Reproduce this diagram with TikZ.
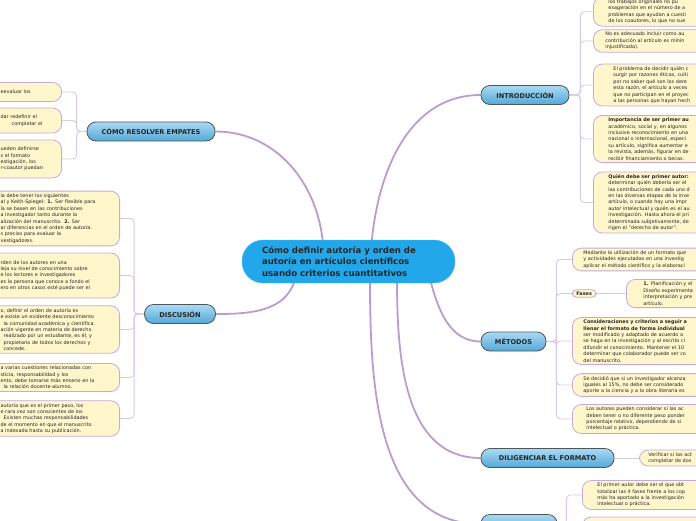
\documentclass[tikz,border=0pt]{standalone}
\usepackage{fontspec}
\setsansfont{DejaVu Sans}
\renewcommand{\familydefault}{\sfdefault}
\usepackage{tikz}
\usetikzlibrary{backgrounds}
\definecolor{hubblue}{RGB}{34,168,234}
\definecolor{branchtop}{RGB}{170,218,243}
\definecolor{branchbot}{RGB}{84,168,216}
\definecolor{branchline}{RGB}{78,86,92}
\definecolor{leafyellow}{RGB}{255,246,204}
\definecolor{leafline}{RGB}{196,170,220}
\definecolor{trunkpurple}{RGB}{186,156,210}
\definecolor{twigpurple}{RGB}{216,200,234}
\definecolor{inkgray}{RGB}{38,38,38}

\begin{document}
\begin{tikzpicture}[x=1pt, y=1pt,
  hub/.style={fill=hubblue, draw=hubblue!80!white, rounded corners=21, text width=173,
    inner xsep=20, inner ysep=5, minimum height=43, align=left, text=inkgray,
    font=\fontsize{8.6}{11.5}\selectfont\bfseries},
  branch/.style={draw=branchline, line width=0.8, top color=branchtop, bottom color=branchbot,
    rounded corners=9, minimum height=19, inner sep=2, text=inkgray,
    font=\fontsize{6.6}{8}\selectfont\bfseries},
  leaf/.style={draw=leafline, line width=0.8, fill=leafyellow, rounded corners=9,
    inner xsep=11, inner ysep=2.5, align=left, text=inkgray,
    font=\fontsize{4.9}{6.4}\selectfont},
  rleaf/.style={leaf, anchor=west, text width=135},
  lleaf/.style={leaf, anchor=east, text width=107, inner xsep=12},
  trunk/.style={draw=trunkpurple, line width=1.8},
  twig/.style={draw=twigpurple, line width=0.9, rounded corners=4}
]
\useasboundingbox (0,-520) rectangle (696,0);
\clip (0,-520) rectangle (696,0);

\node[hub] (c) at (348.5,-261.5) {Cómo definir autoría y orden de\\ autoría en artículos científicos\\ usando criterios cuantitativos};

\node[branch, minimum width=128] (emp) at (151,-131.5) {CÓMO RESOLVER EMPATES};
\node[branch, minimum width=71] (disc) at (180,-314) {DISCUSIÓN};
\node[branch, minimum width=88] (intro) at (525,-95) {INTRODUCCIÓN};
\node[branch, minimum width=65] (met) at (513.5,-341.5) {MÉTODOS};
\node[branch, minimum width=133] (dil) at (547.5,-458) {DILIGENCIAR EL FORMATO};
\node[branch, minimum width=76] (bot) at (519,-524) {};

\node[rleaf, inner xsep=15] (i1) at (593,-11.7) {los trabajos originales no pu\\exageración en el número de a\\problemas que ayudan a cuesti\\de los coautores, lo que no sue};
\node[rleaf, inner xsep=12] (i2) at (593,-41) {No es adecuado incluir como au\\contribución al artículo es mínin\\injustificada).};
\node[rleaf, inner xsep=20] (i3) at (593,-85) {El problema de decidir quién c\\surgir por razones éticas, culti\\por no saber qué son los dere\\esta razón, el artículo a veces\\que no participan en el proyec\\a las personas que hayan hech};
\node[rleaf, inner xsep=15] (i4) at (593,-139) {\textbf{Importancia de ser primer au}\\académico, social y, en algunos\\inclusive reconocimiento en una\\nacional o internacional, especi\\su artículo, significa aumentar e\\la revista, además, figurar en de\\recibir financiamiento o becas.};
\node[rleaf, inner xsep=15] (i5) at (593,-202.5) {\textbf{Quién debe ser primer autor:}\\determinar quién debería ser el\\las contribuciones de cada uno d\\en las diversas etapas de la inve\\artículo, o cuando hay una impr\\autor intelectual y quién es el au\\investigación. Hasta ahora el pri\\determinada subjetivamente, de\\rigen el "derecho de autor".};

\node[lleaf, text width=49, minimum height=19] (e1) at (62,-92) {eevaluar los};
\node[lleaf, text width=49, minimum height=25] (e2) at (62,-120.5) {dar redefinir el\\\hspace*{11pt}completar el};
\node[lleaf, text width=49, minimum height=38] (e3) at (62,-159) {ueden definirse\\s el formato\\estigación, los\\r-coautor puedan};

\node[lleaf] (d1) at (120,-218.5) {ía debe tener los siguientes\\al y Keith-Spiegel: \textbf{1.} Ser flexible para\\ía se basen en las contribuciones\\a investigador tanto durante la\\alización del manuscrito. \textbf{2.} Ser\\ar diferencias en el orden de autoría.\\s preciso para evaluar la\\vestigadores.};
\node[lleaf, minimum height=45] (d2) at (120,-275.5) {rden de los autores en una\\leja su nivel de conocimiento sobre\\e los lectores e investigadores\\es la persona que conoce a fondo el\\ero en otros casos esté puede ser el};
\node[lleaf] (d3) at (120,-329.5) {o, definir el orden de autoría es\\e existe un evidente desconocimiento\\\hspace*{3pt}la comunidad académica y científica.\\ación vigente en materia de derecho\\\hspace*{3pt}realizado por un estudiante, es él, y\\\hspace*{3pt}propietario de todos los derechos y\\\hspace*{3pt}concede.};
\node[lleaf] (d4) at (120,-377.5) {a varias cuestiones relacionadas con\\sticia, responsabilidad y los\\ento, debe tomarse más enserio en la\\\hspace*{3pt}la relación docente-alumno.};
\node[lleaf] (d5) at (120,-418.5) {autoría que es el primer paso, los\\e rara vez son conscientes de los\\\hspace*{3pt}Existen muchas responsabilidades\\de el momento en que el manuscrito\\a indexada hasta su publicación.};

\node[rleaf] (m1) at (572,-259.5) {Mediante la utilización de un formato que\\y actividades ejecutadas en una investig\\aplicar el método científico y la elaboraci};
\node[leaf, anchor=west, rounded corners=4, inner xsep=4, inner ysep=2, font=\fontsize{4.9}{6.4}\selectfont\bfseries] (fases) at (572,-293.5) {Fases};
\node[rleaf, inner xsep=17] (p) at (626,-293.5) {\textbf{1.} Planificación y el\\Diseño experimenta\\interpretación y pre\\artículo.};
\node[rleaf] (m3) at (572,-341) {\textbf{Consideraciones y criterios a seguir a}\\\textbf{llenar el formato de forma individual}\\ser modificado y adaptado de acuerdo a\\se haga en la investigación y al escrito ci\\difundir el conocimiento. Mantener el 10\\determinar que colaborador puede ser co\\del manuscrito.};
\node[rleaf] (m4) at (572,-385) {Se decidió que si un investigador alcanza\\iguales al 15\%, no debe ser considerado\\aporte a la ciencia y a la obra literaria es};
\node[rleaf, inner xsep=14] (m5) at (572,-419) {Los autores pueden considerar si las ac\\deben tener o no diferente peso ponder\\porcentaje relativo, dependiendo de si\\intelectual o práctica.};

\node[rleaf, inner xsep=9] (dl) at (639,-458) {Verificar si las act\\completar de dos};

\node[rleaf, inner xsep=15] (b1) at (582,-495) {El primer autor debe ser el que obt\\totalizar las 4 fases frente a los cop\\más ha aportado a la investigación\\intelectual o práctica.};
\node[rleaf, minimum height=40] (b2) at (582,-537) {};

\begin{scope}[on background layer]
\draw[trunk] ([xshift=-25.5,yshift=-4]c.north) to[out=95,in=0] (emp.east);
\draw[trunk] ([xshift=23,yshift=-4]c.north) to[out=85,in=180] (intro.west);
\draw[trunk] ([xshift=-53.5,yshift=4]c.south) to[out=-105,in=0] (disc.east);
\draw[trunk] ([xshift=81.5,yshift=4]c.south) to[out=-75,in=180] (met.west);
\draw[trunk] ([xshift=48.5,yshift=4]c.south) to[out=-90,in=180] (dil.west);
\draw[trunk] ([xshift=21.5,yshift=4]c.south) to[out=-90,in=180] (bot.west);

\foreach \l in {i1,i2,i3,i4,i5}
  \draw[twig] (intro.east) -- ++(11,0) |- (\l.west);
\foreach \l in {e1,e2,e3}
  \draw[twig] (emp.west) -- ++(-10,0) |- (\l.east);
\foreach \l in {d1,d2,d3,d4,d5}
  \draw[twig] (disc.west) -- ++(-10,0) |- (\l.east);
\foreach \l in {m1,fases,m3,m4,m5}
  \draw[twig] (met.east) -- ++(10,0) |- (\l.west);
\draw[twig] (fases.east) -- (p.west);
\draw[twig] (dil.east) -- (dl.west);
\foreach \l in {b1,b2}
  \draw[twig] (bot.east) -- ++(9,0) |- (\l.west);
\end{scope}
\end{tikzpicture}
\end{document}
